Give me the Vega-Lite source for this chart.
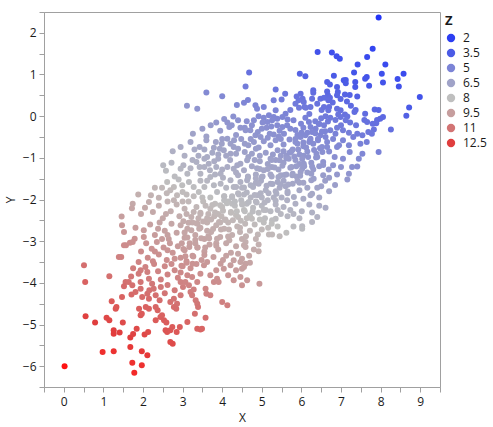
{
  "$schema": "https://vega.github.io/schema/vega-lite/v6.json",
  "autosize": {"type": "none"},
  "padding": {"left": 44, "top": 12, "right": 53, "bottom": 40},
  "width": 396,
  "height": 375,
  "background": "white",
  "config": {
    "font": "Open Sans",
    "view": {"stroke": "#a0a0a0", "strokeWidth": 1},
    "axis": {
      "grid": false,
      "domainColor": "#a0a0a0",
      "tickColor": "#a0a0a0",
      "tickSize": 5,
      "labelFontSize": 12,
      "labelColor": "#1a1a1a",
      "titleFontSize": 12,
      "titleFontWeight": "normal",
      "titleColor": "#1a1a1a"
    }
  },
  "data": {
    "values": [
      {"x":7.95,"y":2.37,"z":1.44},{"x":6.41,"y":1.54,"z":3.02},{"x":6.77,"y":1.53,"z":2.87},{"x":6.89,"y":1.44,"z":2.91},
      {"x":6.97,"y":1.38,"z":2.94},{"x":7.80,"y":1.62,"z":2.32},{"x":7.66,"y":1.42,"z":2.60},{"x":7.42,"y":1.24,"z":2.90},
      {"x":8.12,"y":1.24,"z":2.59},{"x":8.58,"y":1.02,"z":2.62},{"x":8.03,"y":1.02,"z":2.87},{"x":7.33,"y":1.05,"z":3.14},
      {"x":5.96,"y":1.02,"z":3.78},{"x":6.10,"y":0.96,"z":3.78},{"x":4.68,"y":1.05,"z":4.31},{"x":6.82,"y":0.97,"z":3.45},
      {"x":4.59,"y":0.71,"z":4.71},{"x":7.65,"y":0.94,"z":3.11},{"x":7.61,"y":0.90,"z":3.18},{"x":8.43,"y":0.89,"z":2.83},
      {"x":8.06,"y":0.81,"z":3.08},{"x":8.46,"y":0.71,"z":3.01},{"x":7.71,"y":0.73,"z":3.32},{"x":7.36,"y":0.82,"z":3.37},
      {"x":7.36,"y":0.70,"z":3.50},{"x":6.65,"y":0.82,"z":3.68},{"x":6.72,"y":0.76,"z":3.72},{"x":7.07,"y":0.86,"z":3.46},
      {"x":7.12,"y":0.87,"z":3.43},{"x":7.12,"y":0.79,"z":3.52},{"x":6.90,"y":0.70,"z":3.70},{"x":6.92,"y":0.58,"z":3.83},
      {"x":6.90,"y":0.50,"z":3.92},{"x":7.10,"y":0.52,"z":3.82},{"x":7.22,"y":0.51,"z":3.77},{"x":5.35,"y":0.64,"z":4.46},
      {"x":5.59,"y":0.54,"z":4.46},{"x":6.30,"y":0.62,"z":4.06},{"x":6.30,"y":0.56,"z":4.13},{"x":5.98,"y":0.54,"z":4.29},
      {"x":6.67,"y":0.50,"z":4.03},{"x":3.60,"y":0.57,"z":5.30},{"x":8.99,"y":0.46,"z":3.04},{"x":6.65,"y":0.59,"z":3.93},
      {"x":8.72,"y":0.21,"z":3.43},{"x":8.65,"y":0.01,"z":3.68},{"x":4.00,"y":0.48,"z":5.22},{"x":3.11,"y":0.25,"z":5.86},
      {"x":3.37,"y":0.18,"z":5.83},{"x":4.37,"y":0.27,"z":5.29},{"x":4.55,"y":0.32,"z":5.15},{"x":4.65,"y":0.39,"z":5.03},
      {"x":5.88,"y":0.47,"z":4.40},{"x":6.03,"y":0.42,"z":4.40},{"x":5.93,"y":0.38,"z":4.48},{"x":6.06,"y":0.34,"z":4.46},
      {"x":6.08,"y":0.22,"z":4.58},{"x":5.94,"y":0.20,"z":4.67},{"x":6.23,"y":0.22,"z":4.52},{"x":6.11,"y":0.20,"z":4.59},
      {"x":6.48,"y":0.42,"z":4.20},{"x":6.57,"y":0.44,"z":4.13},{"x":6.72,"y":0.44,"z":4.06},{"x":6.68,"y":0.38,"z":4.15},
      {"x":6.79,"y":0.33,"z":4.15},{"x":6.51,"y":0.15,"z":4.48},{"x":6.57,"y":0.22,"z":4.37},{"x":6.70,"y":0.22,"z":4.31},
      {"x":6.68,"y":0.14,"z":4.41},{"x":6.90,"y":0.18,"z":4.27},{"x":6.99,"y":0.14,"z":4.27},{"x":6.93,"y":0.04,"z":4.41},
      {"x":7.10,"y":0.04,"z":4.34},{"x":6.99,"y":0.41,"z":3.98},{"x":7.15,"y":0.35,"z":3.97},{"x":7.41,"y":0.47,"z":3.73},
      {"x":7.37,"y":0.15,"z":4.10},{"x":7.34,"y":0.10,"z":4.16},{"x":7.61,"y":0.06,"z":4.09},{"x":7.85,"y":0.16,"z":3.88},
      {"x":7.95,"y":0.15,"z":3.84},{"x":4.84,"y":0.26,"z":5.09},{"x":4.88,"y":0.18,"z":5.16},{"x":5.05,"y":0.22,"z":5.04},
      {"x":5.30,"y":0.38,"z":4.76},{"x":5.35,"y":0.14,"z":5.00},{"x":5.18,"y":0.02,"z":5.20},{"x":5.60,"y":0.06,"z":4.98},
      {"x":5.85,"y":0.30,"z":4.61},{"x":6.27,"y":0.42,"z":4.29},{"x":5.50,"y":0.40,"z":4.65},{"x":5.72,"y":0.15,"z":4.82},
      {"x":6.40,"y":0.30,"z":4.36},{"x":7.25,"y":0.25,"z":4.04},{"x":6.20,"y":0.05,"z":4.72},
      {"x":4.05,"y":-0.07,"z":5.80},{"x":4.13,"y":-0.15,"z":5.84},{"x":4.28,"y":-0.01,"z":5.63},{"x":4.18,"y":-0.26,"z":5.94},
      {"x":4.24,"y":-0.22,"z":5.87},{"x":3.71,"y":-0.22,"z":6.11},{"x":4.46,"y":-0.28,"z":5.84},{"x":4.57,"y":-0.28,"z":5.79},
      {"x":4.59,"y":-0.34,"z":5.85},{"x":3.26,"y":-0.42,"z":6.52},{"x":6.99,"y":-0.02,"z":4.44},{"x":7.16,"y":-0.01,"z":4.36},
      {"x":7.12,"y":-0.10,"z":4.48},{"x":7.59,"y":-0.09,"z":4.26},{"x":7.66,"y":-0.14,"z":4.28},{"x":7.38,"y":-0.22,"z":4.49},
      {"x":7.23,"y":-0.15,"z":4.48},{"x":7.05,"y":-0.34,"z":4.77},{"x":7.91,"y":-0.09,"z":4.12},{"x":7.99,"y":-0.06,"z":4.04},
      {"x":8.06,"y":-0.02,"z":3.97},{"x":7.89,"y":-0.17,"z":4.21},{"x":7.80,"y":-0.18,"z":4.26},{"x":7.83,"y":-0.32,"z":4.40},
      {"x":7.69,"y":-0.38,"z":4.53},{"x":7.78,"y":-0.42,"z":4.53},{"x":7.54,"y":-0.46,"z":4.68},{"x":7.41,"y":-0.42,"z":4.69},
      {"x":8.26,"y":-0.32,"z":4.22},{"x":5.30,"y":-0.02,"z":5.19},{"x":5.39,"y":-0.06,"z":5.19},{"x":5.52,"y":-0.02,"z":5.09},
      {"x":4.80,"y":-0.10,"z":5.50},{"x":4.92,"y":0.00,"z":5.34},{"x":5.05,"y":-0.04,"z":5.32},{"x":5.14,"y":-0.14,"z":5.39},
      {"x":5.26,"y":-0.10,"z":5.30},{"x":5.12,"y":-0.28,"z":5.55},{"x":5.24,"y":-0.25,"z":5.46},{"x":5.39,"y":-0.22,"z":5.37},
      {"x":5.52,"y":-0.26,"z":5.35},{"x":5.64,"y":-0.22,"z":5.26},{"x":5.72,"y":-0.30,"z":5.30},{"x":5.85,"y":-0.33,"z":5.29},
      {"x":5.99,"y":-0.18,"z":5.05},{"x":6.10,"y":-0.04,"z":4.86},{"x":6.19,"y":-0.14,"z":4.93},{"x":6.23,"y":-0.26,"z":5.04},
      {"x":6.36,"y":-0.30,"z":5.02},{"x":6.27,"y":-0.38,"z":5.15},{"x":6.44,"y":-0.18,"z":4.86},{"x":6.57,"y":-0.22,"z":4.85},
      {"x":6.67,"y":-0.13,"z":4.71},{"x":6.61,"y":0.00,"z":4.59},{"x":6.73,"y":-0.04,"z":4.58},{"x":6.86,"y":-0.09,"z":4.58},
      {"x":6.73,"y":-0.34,"z":4.91},{"x":6.86,"y":-0.42,"z":4.93},{"x":6.48,"y":-0.46,"z":5.15},{"x":6.61,"y":-0.50,"z":5.13},
      {"x":5.30,"y":-0.44,"z":5.65},{"x":5.43,"y":-0.49,"z":5.64},{"x":5.56,"y":-0.42,"z":5.50},{"x":4.84,"y":-0.46,"z":5.87},
      {"x":4.97,"y":-0.50,"z":5.85},{"x":4.71,"y":-0.34,"z":5.80},{"x":5.98,"y":-0.50,"z":5.41},{"x":6.10,"y":-0.46,"z":5.32},
      {"x":6.23,"y":-0.54,"z":5.34},{"x":3.95,"y":-0.35,"z":6.14},{"x":4.35,"y":-0.45,"z":6.08},{"x":4.62,"y":-0.12,"z":5.60},
      {"x":5.00,"y":-0.30,"z":5.62},{"x":5.80,"y":-0.10,"z":5.06},{"x":6.00,"y":-0.40,"z":5.29},{"x":6.50,"y":-0.05,"z":4.69},
      {"x":7.00,"y":-0.22,"z":4.66},
      {"x":4.40,"y":-0.10,"z":5.67},{"x":4.75,"y":-0.22,"z":5.65},{"x":5.02,"y":-0.15,"z":5.45},{"x":5.45,"y":-0.35,"z":5.48},
      {"x":5.65,"y":-0.08,"z":5.10},{"x":5.90,"y":-0.45,"z":5.39},{"x":6.05,"y":-0.28,"z":5.14},{"x":6.35,"y":-0.12,"z":4.84},
      {"x":6.60,"y":-0.36,"z":4.99},{"x":6.90,"y":-0.28,"z":4.76},{"x":7.20,"y":-0.40,"z":4.76},{"x":3.85,"y":-0.15,"z":5.97},
      {"x":3.50,"y":-0.30,"z":6.28},{"x":4.90,"y":-0.38,"z":5.75},{"x":5.20,"y":-0.42,"z":5.66},
      {"x":3.60,"y":-0.49,"z":6.45},{"x":3.60,"y":-0.58,"z":6.55},{"x":3.84,"y":-0.62,"z":6.48},{"x":3.99,"y":-0.66,"z":6.45},
      {"x":3.43,"y":-0.74,"z":6.79},{"x":2.95,"y":-0.74,"z":7.00},{"x":2.75,"y":-0.84,"z":7.20},{"x":4.13,"y":-0.54,"z":6.26},
      {"x":4.21,"y":-0.66,"z":6.36},{"x":4.29,"y":-0.74,"z":6.41},{"x":4.48,"y":-0.55,"z":6.12},{"x":4.57,"y":-0.66,"z":6.20},
      {"x":4.66,"y":-0.70,"z":6.21},{"x":3.79,"y":-0.76,"z":6.65},{"x":3.94,"y":-0.78,"z":6.61},{"x":4.04,"y":-0.82,"z":6.61},
      {"x":4.21,"y":-0.90,"z":6.62},{"x":4.35,"y":-0.90,"z":6.56},{"x":4.57,"y":-0.86,"z":6.42},{"x":4.66,"y":-0.98,"z":6.51},
      {"x":3.62,"y":-0.98,"z":6.97},{"x":7.95,"y":-0.86,"z":4.93},{"x":7.54,"y":-0.90,"z":5.15},{"x":7.22,"y":-0.86,"z":5.25},
      {"x":6.84,"y":-0.98,"z":5.55},{"x":7.31,"y":-0.50,"z":4.82},{"x":7.49,"y":-0.66,"z":4.91},{"x":4.80,"y":-0.62,"z":6.06},
      {"x":4.92,"y":-0.75,"z":6.15},{"x":5.05,"y":-0.60,"z":5.93},{"x":5.10,"y":-0.88,"z":6.21},{"x":5.22,"y":-0.70,"z":5.96},
      {"x":5.35,"y":-0.58,"z":5.78},{"x":5.40,"y":-0.82,"z":6.01},{"x":5.55,"y":-0.68,"z":5.79},{"x":5.62,"y":-0.95,"z":6.06},
      {"x":5.70,"y":-0.56,"z":5.59},{"x":5.78,"y":-0.80,"z":5.82},{"x":5.90,"y":-0.66,"z":5.61},{"x":5.95,"y":-0.92,"z":5.87},
      {"x":6.05,"y":-0.72,"z":5.62},{"x":6.15,"y":-0.85,"z":5.71},{"x":6.30,"y":-0.66,"z":5.44},{"x":6.38,"y":-0.90,"z":5.66},
      {"x":6.52,"y":-0.74,"z":5.43},{"x":6.65,"y":-0.62,"z":5.24},{"x":6.70,"y":-0.85,"z":5.47},{"x":6.95,"y":-0.70,"z":5.20},
      {"x":7.05,"y":-0.58,"z":5.03},{"x":3.20,"y":-0.62,"z":6.76},{"x":3.05,"y":-0.95,"z":7.19},{"x":6.65,"y":-0.74,"z":5.37},
      {"x":6.90,"y":-0.74,"z":5.26},{"x":6.40,"y":-0.98,"z":5.74},{"x":6.53,"y":-0.86,"z":5.56},{"x":3.75,"y":-0.88,"z":6.80},
      {"x":4.00,"y":-0.55,"z":6.33},{"x":4.40,"y":-0.78,"z":6.40},{"x":4.75,"y":-0.90,"z":6.38},{"x":4.95,"y":-0.95,"z":6.35},
      {"x":5.28,"y":-0.92,"z":6.17},{"x":5.48,"y":-0.55,"z":5.68},{"x":5.85,"y":-0.55,"z":5.52},{"x":6.42,"y":-0.58,"z":5.31},
      {"x":6.80,"y":-0.55,"z":5.10},
      {"x":3.30,"y":-0.80,"z":6.91},{"x":3.40,"y":-0.95,"z":7.03},{"x":3.55,"y":-0.80,"z":6.80},{"x":3.90,"y":-0.92,"z":6.77},
      {"x":4.10,"y":-0.95,"z":6.73},{"x":4.30,"y":-0.58,"z":6.24},{"x":4.72,"y":-0.55,"z":6.01},{"x":4.85,"y":-0.78,"z":6.21},
      {"x":5.15,"y":-0.52,"z":5.79},{"x":5.48,"y":-0.95,"z":6.12},{"x":5.70,"y":-0.88,"z":5.94},{"x":6.05,"y":-0.95,"z":5.87},
      {"x":6.20,"y":-0.62,"z":5.44},{"x":7.20,"y":-0.70,"z":5.09},{"x":7.45,"y":-1.02,"z":5.32},{"x":7.65,"y":-0.62,"z":4.80},
      {"x":2.51,"y":-1.18,"z":7.67},{"x":2.58,"y":-1.31,"z":7.77},{"x":3.02,"y":-1.18,"z":7.44},{"x":2.95,"y":-1.26,"z":7.56},
      {"x":3.12,"y":-1.38,"z":7.62},{"x":3.43,"y":-1.22,"z":7.31},{"x":3.66,"y":-1.14,"z":7.12},{"x":3.45,"y":-1.38,"z":7.47},
      {"x":3.69,"y":-1.30,"z":7.28},{"x":3.85,"y":-1.22,"z":7.13},{"x":3.70,"y":-1.46,"z":7.45},{"x":3.96,"y":-1.38,"z":7.25},
      {"x":4.13,"y":-1.22,"z":7.00},{"x":4.29,"y":-1.26,"z":6.97},{"x":4.46,"y":-1.14,"z":6.77},{"x":4.63,"y":-1.06,"z":6.60},
      {"x":7.28,"y":-1.22,"z":5.62},{"x":7.41,"y":-1.21,"z":5.55},{"x":7.16,"y":-1.52,"z":5.99},{"x":6.69,"y":-1.28,"z":5.94},
      {"x":6.80,"y":-1.18,"z":5.78},{"x":6.25,"y":-1.54,"z":6.41},{"x":6.31,"y":-1.50,"z":6.34},{"x":6.02,"y":-1.26,"z":6.21},
      {"x":5.98,"y":-1.34,"z":6.32},{"x":6.06,"y":-1.14,"z":6.06},{"x":4.75,"y":-1.20,"z":6.71},{"x":4.85,"y":-1.40,"z":6.88},
      {"x":4.95,"y":-1.08,"z":6.49},{"x":5.05,"y":-1.30,"z":6.68},{"x":5.15,"y":-1.15,"z":6.47},{"x":5.25,"y":-1.45,"z":6.76},
      {"x":5.35,"y":-1.05,"z":6.28},{"x":5.42,"y":-1.28,"z":6.50},{"x":5.55,"y":-1.12,"z":6.27},{"x":5.62,"y":-1.40,"z":6.54},
      {"x":5.75,"y":-1.22,"z":6.29},{"x":5.85,"y":-1.05,"z":6.06},{"x":5.88,"y":-1.45,"z":6.48},{"x":6.15,"y":-1.35,"z":6.25},
      {"x":6.45,"y":-1.20,"z":5.96},{"x":6.55,"y":-1.42,"z":6.15},{"x":4.40,"y":-1.42,"z":7.09},{"x":4.55,"y":-1.30,"z":6.90},
      {"x":4.20,"y":-1.05,"z":6.78},{"x":3.90,"y":-1.02,"z":6.88},{"x":3.25,"y":-1.05,"z":7.20},{"x":2.80,"y":-1.45,"z":7.84},
      {"x":3.55,"y":-1.02,"z":7.04},{"x":3.80,"y":-1.08,"z":7.00},{"x":4.02,"y":-1.48,"z":7.33},{"x":4.35,"y":-1.35,"z":7.05},
      {"x":4.65,"y":-1.45,"z":7.02},{"x":4.88,"y":-1.25,"z":6.70},{"x":5.22,"y":-1.02,"z":6.30},{"x":5.48,"y":-1.42,"z":6.62},
      {"x":5.68,"y":-1.02,"z":6.10},{"x":6.25,"y":-1.12,"z":5.96},{"x":6.90,"y":-1.40,"z":5.97},{"x":7.05,"y":-1.02,"z":5.50},
      {"x":3.20,"y":-1.25,"z":7.44},{"x":3.35,"y":-1.10,"z":7.22},{"x":3.55,"y":-1.22,"z":7.26},{"x":3.82,"y":-1.40,"z":7.33},
      {"x":4.00,"y":-1.28,"z":7.12},{"x":4.38,"y":-1.18,"z":6.84},{"x":4.82,"y":-1.05,"z":6.51},{"x":5.00,"y":-1.46,"z":6.88},
      {"x":5.25,"y":-1.22,"z":6.51},{"x":5.78,"y":-1.38,"z":6.45},{"x":5.95,"y":-1.15,"z":6.12},{"x":6.30,"y":-1.28,"z":6.11},
      {"x":6.55,"y":-1.10,"z":5.81},{"x":6.70,"y":-1.48,"z":6.15},{"x":7.00,"y":-1.22,"z":5.74},{"x":7.20,"y":-1.38,"z":5.82},
      {"x":2.72,"y":-1.12,"z":7.51},
      {"x":2.61,"y":-1.58,"z":8.06},{"x":2.78,"y":-1.70,"z":8.12},{"x":2.99,"y":-1.66,"z":7.97},{"x":3.16,"y":-1.58,"z":7.82},
      {"x":3.28,"y":-1.70,"z":7.90},{"x":3.41,"y":-1.82,"z":7.97},{"x":3.55,"y":-1.70,"z":7.78},{"x":3.79,"y":-1.66,"z":7.62},
      {"x":3.96,"y":-1.62,"z":7.51},{"x":3.87,"y":-1.82,"z":7.77},{"x":4.21,"y":-1.54,"z":7.31},{"x":4.29,"y":-1.70,"z":7.45},
      {"x":4.46,"y":-1.58,"z":7.25},{"x":4.63,"y":-1.54,"z":7.12},{"x":1.88,"y":-1.88,"z":8.70},{"x":2.69,"y":-1.78,"z":8.24},
      {"x":2.86,"y":-1.90,"z":8.29},{"x":2.40,"y":-1.96,"z":8.56},{"x":6.27,"y":-1.86,"z":6.75},{"x":6.23,"y":-1.90,"z":6.81},
      {"x":5.81,"y":-1.94,"z":7.04},{"x":4.78,"y":-1.70,"z":7.24},{"x":4.90,"y":-1.90,"z":7.39},{"x":4.98,"y":-1.55,"z":6.98},
      {"x":5.10,"y":-1.78,"z":7.18},{"x":5.22,"y":-1.62,"z":6.95},{"x":5.30,"y":-1.95,"z":7.28},{"x":5.45,"y":-1.72,"z":6.96},
      {"x":5.55,"y":-1.55,"z":6.73},{"x":5.65,"y":-1.85,"z":7.01},{"x":5.78,"y":-1.62,"z":6.71},{"x":5.95,"y":-1.78,"z":6.80},
      {"x":6.05,"y":-1.60,"z":6.57},{"x":6.50,"y":-1.68,"z":6.45},{"x":6.70,"y":-1.80,"z":6.49},{"x":4.05,"y":-1.92,"z":7.79},
      {"x":4.55,"y":-1.88,"z":7.53},{"x":3.70,"y":-1.95,"z":7.98},{"x":3.10,"y":-1.88,"z":8.17},{"x":2.30,"y":-1.72,"z":8.35},
      {"x":3.00,"y":-1.82,"z":8.15},{"x":3.45,"y":-1.55,"z":7.65},{"x":3.62,"y":-1.55,"z":7.58},{"x":4.10,"y":-1.72,"z":7.56},
      {"x":4.40,"y":-1.85,"z":7.56},{"x":4.85,"y":-1.60,"z":7.10},{"x":5.00,"y":-1.95,"z":7.41},{"x":5.35,"y":-1.80,"z":7.09},
      {"x":5.50,"y":-1.95,"z":7.19},{"x":5.90,"y":-1.55,"z":6.57},{"x":6.05,"y":-1.98,"z":6.98},{"x":6.45,"y":-1.95,"z":6.77},
      {"x":2.48,"y":-1.72,"z":8.27},{"x":2.60,"y":-1.85,"z":8.36},{"x":2.90,"y":-1.52,"z":7.86},{"x":3.28,"y":-1.92,"z":8.13},
      {"x":3.50,"y":-1.95,"z":8.07},{"x":4.25,"y":-1.95,"z":7.74},{"x":4.50,"y":-1.72,"z":7.38},{"x":4.72,"y":-1.95,"z":7.53},
      {"x":5.40,"y":-1.58,"z":6.83},{"x":5.60,"y":-1.68,"z":6.85},{"x":6.15,"y":-1.72,"z":6.65},{"x":6.40,"y":-1.72,"z":6.54},
      {"x":6.60,"y":-1.55,"z":6.27},{"x":6.85,"y":-1.65,"z":6.27},{"x":2.20,"y":-1.90,"z":8.58},
      {"x":1.74,"y":-2.10,"z":9.00},{"x":1.72,"y":-2.21,"z":9.13},{"x":2.15,"y":-2.06,"z":8.77},{"x":1.46,"y":-2.41,"z":9.46},
      {"x":6.01,"y":-2.28,"z":7.32},{"x":6.27,"y":-2.31,"z":7.23},{"x":6.61,"y":-2.20,"z":6.97},{"x":5.64,"y":-2.02,"z":7.20},
      {"x":5.35,"y":-2.46,"z":7.81},{"x":5.26,"y":-2.50,"z":7.89},{"x":2.25,"y":-2.30,"z":8.99},{"x":2.40,"y":-2.15,"z":8.76},
      {"x":2.50,"y":-2.45,"z":9.05},{"x":2.62,"y":-2.05,"z":8.56},{"x":2.70,"y":-2.28,"z":8.77},{"x":2.85,"y":-2.12,"z":8.54},
      {"x":2.92,"y":-2.40,"z":8.81},{"x":3.05,"y":-2.22,"z":8.56},{"x":3.15,"y":-2.05,"z":8.32},{"x":3.22,"y":-2.42,"z":8.69},
      {"x":3.35,"y":-2.18,"z":8.38},{"x":3.45,"y":-2.32,"z":8.49},{"x":3.52,"y":-2.05,"z":8.16},{"x":3.62,"y":-2.45,"z":8.56},
      {"x":3.70,"y":-2.22,"z":8.27},{"x":3.82,"y":-2.10,"z":8.09},{"x":3.90,"y":-2.35,"z":8.32},{"x":4.00,"y":-2.18,"z":8.09},
      {"x":4.08,"y":-2.48,"z":8.38},{"x":4.15,"y":-2.05,"z":7.88},{"x":4.22,"y":-2.30,"z":8.12},{"x":4.32,"y":-2.15,"z":7.92},
      {"x":4.40,"y":-2.42,"z":8.17},{"x":4.48,"y":-2.02,"z":7.71},{"x":4.55,"y":-2.25,"z":7.93},{"x":4.62,"y":-2.10,"z":7.74},
      {"x":4.70,"y":-2.38,"z":8.00},{"x":4.78,"y":-2.20,"z":7.78},{"x":4.85,"y":-2.05,"z":7.58},{"x":4.92,"y":-2.32,"z":7.85},
      {"x":5.00,"y":-2.15,"z":7.62},{"x":5.08,"y":-2.45,"z":7.91},{"x":5.15,"y":-2.02,"z":7.41},{"x":5.22,"y":-2.28,"z":7.66},
      {"x":5.35,"y":-2.12,"z":7.44},{"x":5.48,"y":-2.35,"z":7.63},{"x":5.55,"y":-2.18,"z":7.41},{"x":5.72,"y":-2.25,"z":7.41},
      {"x":5.85,"y":-2.10,"z":7.20},{"x":4.35,"y":-2.38,"z":8.16},{"x":4.62,"y":-2.45,"z":8.12},{"x":4.95,"y":-2.48,"z":8.00},
      {"x":3.98,"y":-2.40,"z":8.34},{"x":4.25,"y":-2.10,"z":7.90},{"x":5.10,"y":-2.25,"z":7.69},{"x":1.95,"y":-2.35,"z":9.18},
      {"x":2.58,"y":-2.35,"z":8.90},{"x":2.78,"y":-2.02,"z":8.46},{"x":3.10,"y":-2.35,"z":8.68},{"x":3.28,"y":-2.30,"z":8.54},
      {"x":3.58,"y":-2.15,"z":8.24},{"x":3.80,"y":-2.40,"z":8.42},{"x":4.05,"y":-2.02,"z":7.90},{"x":4.50,"y":-2.12,"z":7.81},
      {"x":5.40,"y":-2.25,"z":7.55},{"x":5.65,"y":-2.40,"z":7.60},{"x":5.95,"y":-2.45,"z":7.53},{"x":6.20,"y":-2.12,"z":7.06},
      {"x":6.40,"y":-2.42,"z":7.29},{"x":2.05,"y":-2.20,"z":8.98},{"x":3.00,"y":-2.05,"z":8.39},{"x":3.40,"y":-2.45,"z":8.65},
      {"x":5.80,"y":-2.35,"z":7.49},{"x":6.45,"y":-2.15,"z":6.98},
      {"x":1.47,"y":-2.62,"z":9.68},{"x":1.52,"y":-2.78,"z":9.83},{"x":1.81,"y":-2.68,"z":9.59},{"x":1.79,"y":-2.94,"z":9.89},
      {"x":2.02,"y":-2.74,"z":9.57},{"x":2.02,"y":-2.90,"z":9.74},{"x":6.27,"y":-2.54,"z":7.48},{"x":6.02,"y":-2.64,"z":7.70},
      {"x":6.02,"y":-2.70,"z":7.77},{"x":5.62,"y":-2.80,"z":8.05},{"x":5.16,"y":-2.68,"z":8.12},{"x":5.26,"y":-2.84,"z":8.26},
      {"x":5.18,"y":-2.84,"z":8.29},{"x":4.90,"y":-2.84,"z":8.41},{"x":2.18,"y":-2.60,"z":9.35},{"x":2.30,"y":-2.85,"z":9.57},
      {"x":2.42,"y":-2.55,"z":9.19},{"x":2.55,"y":-2.75,"z":9.35},{"x":2.65,"y":-2.95,"z":9.52},{"x":2.72,"y":-2.58,"z":9.09},
      {"x":2.85,"y":-2.80,"z":9.27},{"x":2.95,"y":-2.62,"z":9.03},{"x":3.05,"y":-2.92,"z":9.31},{"x":3.12,"y":-2.70,"z":9.05},
      {"x":3.25,"y":-2.55,"z":8.82},{"x":3.32,"y":-2.85,"z":9.12},{"x":3.45,"y":-2.68,"z":8.87},{"x":3.55,"y":-2.95,"z":9.13},
      {"x":3.62,"y":-2.55,"z":8.66},{"x":3.72,"y":-2.78,"z":8.86},{"x":3.85,"y":-2.62,"z":8.64},{"x":3.95,"y":-2.90,"z":8.89},
      {"x":4.05,"y":-2.70,"z":8.64},{"x":4.15,"y":-2.55,"z":8.42},{"x":4.25,"y":-2.85,"z":8.71},{"x":4.38,"y":-2.65,"z":8.43},
      {"x":4.50,"y":-2.95,"z":8.71},{"x":4.58,"y":-2.58,"z":8.27},{"x":4.70,"y":-2.75,"z":8.40},{"x":4.82,"y":-2.60,"z":8.19},
      {"x":5.00,"y":-2.72,"z":8.24},{"x":4.45,"y":-2.78,"z":8.54},{"x":2.48,"y":-2.95,"z":9.60},{"x":2.38,"y":-2.70,"z":9.37},
      {"x":2.62,"y":-2.85,"z":9.43},{"x":3.02,"y":-2.52,"z":8.89},{"x":3.38,"y":-2.58,"z":8.80},{"x":3.65,"y":-2.88,"z":9.00},
      {"x":3.95,"y":-2.55,"z":8.51},{"x":4.18,"y":-2.98,"z":8.88},{"x":4.60,"y":-2.88,"z":8.59},{"x":4.85,"y":-2.95,"z":8.56},
      {"x":5.05,"y":-2.55,"z":8.03},{"x":5.40,"y":-2.65,"z":7.98},{"x":5.25,"y":-2.58,"z":7.98},{"x":5.80,"y":-2.65,"z":7.81},
      {"x":5.45,"y":-2.88,"z":8.21},
      {"x":1.52,"y":-3.10,"z":10.18},{"x":1.57,"y":-3.10,"z":10.16},{"x":1.67,"y":-3.04,"z":10.05},{"x":1.74,"y":-3.02,"z":9.99},
      {"x":1.39,"y":-3.38,"z":10.54},{"x":1.45,"y":-3.38,"z":10.51},{"x":1.89,"y":-3.50,"z":10.45},{"x":4.92,"y":-3.08,"z":8.67},
      {"x":4.92,"y":-3.24,"z":8.84},{"x":4.80,"y":-3.20,"z":8.85},{"x":4.59,"y":-3.02,"z":8.74},{"x":4.55,"y":-3.10,"z":8.85},
      {"x":4.59,"y":-3.14,"z":8.87},{"x":4.50,"y":-3.42,"z":9.21},{"x":4.70,"y":-3.52,"z":9.23},{"x":4.46,"y":-3.50,"z":9.32},
      {"x":4.59,"y":-3.54,"z":9.30},{"x":4.29,"y":-3.46,"z":9.35},{"x":1.95,"y":-3.25,"z":10.15},{"x":2.08,"y":-3.05,"z":9.87},
      {"x":2.12,"y":-3.40,"z":10.24},{"x":2.22,"y":-3.18,"z":9.95},{"x":2.35,"y":-3.02,"z":9.73},{"x":2.40,"y":-3.32,"z":10.03},
      {"x":2.52,"y":-3.15,"z":9.79},{"x":2.60,"y":-3.45,"z":10.09},{"x":2.68,"y":-3.05,"z":9.61},{"x":2.75,"y":-3.28,"z":9.83},
      {"x":2.88,"y":-3.12,"z":9.60},{"x":2.95,"y":-3.40,"z":9.87},{"x":3.05,"y":-3.22,"z":9.64},{"x":3.18,"y":-3.05,"z":9.39},
      {"x":3.25,"y":-3.35,"z":9.69},{"x":3.38,"y":-3.15,"z":9.41},{"x":3.48,"y":-3.45,"z":9.70},{"x":3.55,"y":-3.25,"z":9.45},
      {"x":3.68,"y":-3.08,"z":9.21},{"x":3.78,"y":-3.38,"z":9.49},{"x":3.90,"y":-3.20,"z":9.24},{"x":4.02,"y":-3.45,"z":9.46},
      {"x":4.10,"y":-3.05,"z":8.99},{"x":4.22,"y":-3.28,"z":9.18},{"x":4.35,"y":-3.12,"z":8.96},{"x":3.10,"y":-3.48,"z":9.90},
      {"x":2.25,"y":-3.48,"z":10.27},{"x":2.30,"y":-3.25,"z":10.00},{"x":2.62,"y":-3.22,"z":9.83},{"x":2.80,"y":-3.42,"z":9.96},
      {"x":2.98,"y":-3.05,"z":9.48},{"x":3.32,"y":-3.05,"z":9.33},{"x":3.85,"y":-3.05,"z":9.10},{"x":4.10,"y":-3.35,"z":9.32},
      {"x":4.40,"y":-3.30,"z":9.12},{"x":4.68,"y":-3.35,"z":9.06},
      {"x":0.51,"y":-3.58,"z":11.15},{"x":0.54,"y":-3.98,"z":11.56},{"x":1.15,"y":-3.84,"z":11.14},{"x":1.56,"y":-3.98,"z":11.11},
      {"x":1.64,"y":-3.98,"z":11.08},{"x":1.94,"y":-3.98,"z":10.95},{"x":1.94,"y":-3.70,"z":10.65},{"x":1.89,"y":-3.78,"z":10.75},
      {"x":2.06,"y":-3.62,"z":10.50},{"x":2.11,"y":-3.74,"z":10.61},{"x":2.15,"y":-3.90,"z":10.76},{"x":2.95,"y":-3.98,"z":10.50},
      {"x":3.07,"y":-3.98,"z":10.45},{"x":3.12,"y":-3.82,"z":10.26},{"x":3.24,"y":-3.86,"z":10.24},{"x":3.45,"y":-3.78,"z":10.06},
      {"x":3.54,"y":-3.58,"z":9.81},{"x":3.62,"y":-3.50,"z":9.69},{"x":3.37,"y":-3.98,"z":10.32},{"x":3.70,"y":-3.82,"z":10.00},
      {"x":3.79,"y":-3.98,"z":10.13},{"x":3.87,"y":-3.90,"z":10.01},{"x":3.91,"y":-3.98,"z":10.08},{"x":3.96,"y":-3.54,"z":9.58},
      {"x":4.04,"y":-3.66,"z":9.67},{"x":4.21,"y":-3.58,"z":9.52},{"x":4.29,"y":-3.94,"z":9.87},{"x":4.46,"y":-3.86,"z":9.71},
      {"x":4.63,"y":-3.94,"z":9.72},{"x":4.50,"y":-3.66,"z":9.47},{"x":4.55,"y":-3.62,"z":9.41},{"x":2.28,"y":-3.55,"z":10.33},
      {"x":2.38,"y":-3.72,"z":10.47},{"x":2.45,"y":-3.92,"z":10.65},{"x":2.55,"y":-3.60,"z":10.27},{"x":2.62,"y":-3.80,"z":10.45},
      {"x":2.72,"y":-3.55,"z":10.13},{"x":2.80,"y":-3.70,"z":10.27},{"x":2.88,"y":-3.88,"z":10.42},{"x":3.00,"y":-3.60,"z":10.07},
      {"x":3.20,"y":-3.65,"z":10.03},{"x":3.35,"y":-3.55,"z":9.86},{"x":2.95,"y":-3.75,"z":10.25},{"x":3.10,"y":-3.52,"z":9.94},
      {"x":3.85,"y":-3.70,"z":9.81},{"x":4.15,"y":-3.82,"z":9.80},{"x":4.35,"y":-3.70,"z":9.59},{"x":1.75,"y":-3.65,"z":10.67},
      {"x":1.70,"y":-3.85,"z":10.91},
      {"x":1.21,"y":-4.44,"z":11.77},{"x":1.52,"y":-4.08,"z":11.24},{"x":1.47,"y":-4.34,"z":11.54},{"x":1.73,"y":-4.06,"z":11.12},
      {"x":1.71,"y":-4.28,"z":11.37},{"x":1.81,"y":-4.22,"z":11.26},{"x":1.94,"y":-4.14,"z":11.12},{"x":1.98,"y":-4.34,"z":11.32},
      {"x":2.11,"y":-4.26,"z":11.17},{"x":2.15,"y":-4.38,"z":11.28},{"x":2.16,"y":-4.18,"z":11.06},{"x":2.23,"y":-4.02,"z":10.86},
      {"x":2.27,"y":-4.14,"z":10.97},{"x":2.32,"y":-4.30,"z":11.12},{"x":2.69,"y":-4.46,"z":11.14},{"x":2.78,"y":-4.38,"z":11.01},
      {"x":2.86,"y":-4.50,"z":11.10},{"x":2.95,"y":-4.30,"z":10.84},{"x":3.20,"y":-4.22,"z":10.65},{"x":3.24,"y":-4.30,"z":10.71},
      {"x":3.28,"y":-4.16,"z":10.55},{"x":3.01,"y":-4.10,"z":10.61},{"x":3.16,"y":-4.06,"z":10.49},{"x":3.33,"y":-4.42,"z":10.80},
      {"x":3.37,"y":-4.50,"z":10.88},{"x":3.60,"y":-4.26,"z":10.52},{"x":3.58,"y":-4.14,"z":10.39},{"x":3.70,"y":-4.30,"z":10.51},
      {"x":4.00,"y":-4.46,"z":10.56},{"x":4.13,"y":-4.54,"z":10.58},{"x":4.50,"y":-4.06,"z":9.90},{"x":4.94,"y":-4.02,"z":9.67},
      {"x":2.45,"y":-4.10,"z":10.85},{"x":2.55,"y":-4.25,"z":10.97},{"x":2.62,"y":-4.05,"z":10.72},{"x":2.80,"y":-4.18,"z":10.78},
      {"x":2.42,"y":-4.42,"z":11.21},
      {"x":0.55,"y":-4.80,"z":12.44},{"x":0.79,"y":-4.95,"z":12.50},{"x":1.08,"y":-4.84,"z":12.25},{"x":1.15,"y":-4.90,"z":12.28},
      {"x":1.31,"y":-4.62,"z":11.91},{"x":1.33,"y":-4.58,"z":11.86},{"x":1.49,"y":-4.95,"z":12.19},{"x":1.90,"y":-4.62,"z":11.65},
      {"x":1.94,"y":-4.78,"z":11.81},{"x":1.97,"y":-4.74,"z":11.75},{"x":2.07,"y":-4.58,"z":11.54},{"x":2.15,"y":-4.62,"z":11.54},
      {"x":2.32,"y":-4.58,"z":11.43},{"x":2.37,"y":-4.66,"z":11.49},{"x":2.32,"y":-4.90,"z":11.77},{"x":2.44,"y":-4.82,"z":11.64},
      {"x":2.48,"y":-4.78,"z":11.57},{"x":2.53,"y":-4.90,"z":11.68},{"x":2.59,"y":-4.95,"z":11.71},{"x":2.78,"y":-4.58,"z":11.23},
      {"x":2.84,"y":-4.62,"z":11.24},{"x":3.12,"y":-4.94,"z":11.47},{"x":3.31,"y":-4.74,"z":11.16},{"x":3.58,"y":-4.84,"z":11.15},
      {"x":3.39,"y":-4.58,"z":10.96},
      {"x":0.98,"y":-5.66,"z":13.18},{"x":1.26,"y":-5.14,"z":12.50},{"x":1.26,"y":-5.22,"z":12.59},{"x":1.26,"y":-5.64,"z":13.04},
      {"x":1.41,"y":-5.19,"z":12.49},{"x":1.68,"y":-5.31,"z":12.49},{"x":1.75,"y":-5.23,"z":12.38},{"x":1.68,"y":-5.54,"z":12.74},
      {"x":1.73,"y":-5.92,"z":13.13},{"x":1.78,"y":-6.16,"z":13.37},{"x":1.84,"y":-5.10,"z":12.20},{"x":1.97,"y":-5.64,"z":12.72},
      {"x":1.97,"y":-5.98,"z":13.09},{"x":2.04,"y":-5.24,"z":12.26},{"x":2.13,"y":-5.18,"z":12.15},{"x":2.11,"y":-5.74,"z":12.77},
      {"x":2.57,"y":-5.14,"z":11.92},{"x":2.61,"y":-5.18,"z":11.94},{"x":2.69,"y":-5.14,"z":11.87},{"x":2.74,"y":-5.06,"z":11.75},
      {"x":2.93,"y":-5.06,"z":11.67},{"x":2.85,"y":-5.18,"z":11.84},{"x":2.69,"y":-5.42,"z":12.17},{"x":2.75,"y":-5.46,"z":12.19},
      {"x":3.37,"y":-5.10,"z":11.53},{"x":3.45,"y":-5.12,"z":11.51},{"x":3.49,"y":-5.10,"z":11.47},{"x":0.02,"y":-6.00,"z":13.97},
      {"x":2.97,"y":-3.59,"z":10.06},{"x":3.02,"y":-3.19,"z":9.62},{"x":3.05,"y":-2.79,"z":9.19},
      {"x":3.07,"y":-3.36,"z":9.77},{"x":3.12,"y":-2.91,"z":9.28},{"x":3.15,"y":-2.56,"z":8.90},
      {"x":3.17,"y":-3.14,"z":9.48},{"x":3.22,"y":-2.74,"z":9.05},{"x":3.25,"y":-3.54,"z":9.92},
      {"x":3.27,"y":-3.37,"z":9.69},{"x":3.32,"y":-2.97,"z":9.26},{"x":3.35,"y":-2.57,"z":8.82},
      {"x":3.37,"y":-3.15,"z":9.41},{"x":3.42,"y":-2.70,"z":8.92},{"x":3.45,"y":-2.35,"z":8.54},
      {"x":3.47,"y":-2.93,"z":9.12},{"x":3.52,"y":-2.53,"z":8.69},{"x":3.55,"y":-3.33,"z":9.56},
      {"x":3.57,"y":-3.15,"z":9.32},{"x":3.62,"y":-2.75,"z":8.89},{"x":3.65,"y":-2.35,"z":8.45},
      {"x":3.67,"y":-2.93,"z":9.04},{"x":3.72,"y":-2.48,"z":8.55},{"x":3.75,"y":-2.13,"z":8.17},
      {"x":3.77,"y":-2.71,"z":8.76},{"x":3.82,"y":-2.31,"z":8.32},{"x":3.85,"y":-3.11,"z":9.19},
      {"x":3.87,"y":-2.94,"z":8.96},{"x":3.92,"y":-2.54,"z":8.53},{"x":3.95,"y":-2.14,"z":8.10},
      {"x":3.97,"y":-2.72,"z":8.68},{"x":4.02,"y":-2.27,"z":8.19},{"x":4.05,"y":-1.92,"z":7.81},
      {"x":4.07,"y":-2.49,"z":8.39},{"x":4.12,"y":-2.09,"z":7.95},{"x":4.15,"y":-2.89,"z":8.82},
      {"x":4.17,"y":-2.72,"z":8.59},{"x":4.22,"y":-2.32,"z":8.16},{"x":4.25,"y":-1.92,"z":7.73},
      {"x":4.27,"y":-2.50,"z":8.31},{"x":4.32,"y":-2.05,"z":7.82},{"x":4.35,"y":-1.70,"z":7.44},
      {"x":4.37,"y":-2.28,"z":8.03},{"x":4.42,"y":-1.88,"z":7.59},{"x":4.45,"y":-2.68,"z":8.46},
      {"x":4.47,"y":-2.51,"z":8.23},{"x":4.52,"y":-2.11,"z":7.80},{"x":4.55,"y":-1.71,"z":7.37},
      {"x":4.57,"y":-2.28,"z":7.94},{"x":4.62,"y":-1.83,"z":7.45},{"x":4.65,"y":-1.48,"z":7.07},
      {"x":4.67,"y":-2.06,"z":7.66},{"x":4.72,"y":-1.66,"z":7.23},{"x":4.75,"y":-2.46,"z":8.09},
      {"x":4.77,"y":-2.29,"z":7.86},{"x":4.82,"y":-1.89,"z":7.43},{"x":4.85,"y":-1.49,"z":7.00},
      {"x":4.87,"y":-2.07,"z":7.58},{"x":4.92,"y":-1.62,"z":7.09},{"x":4.95,"y":-1.27,"z":6.72},
      {"x":4.97,"y":-1.85,"z":7.30},{"x":5.02,"y":-1.45,"z":6.87},{"x":5.05,"y":-2.25,"z":7.73},
      {"x":5.07,"y":-2.07,"z":7.49},{"x":5.12,"y":-1.67,"z":7.06},{"x":5.15,"y":-1.27,"z":6.63},
      {"x":5.17,"y":-1.85,"z":7.21},{"x":5.22,"y":-1.40,"z":6.72},{"x":5.25,"y":-1.05,"z":6.35},
      {"x":5.27,"y":-1.63,"z":6.93},{"x":5.32,"y":-1.23,"z":6.50},{"x":5.35,"y":-2.03,"z":7.36},
      {"x":5.37,"y":-1.86,"z":7.13},{"x":5.42,"y":-1.46,"z":6.70},{"x":5.45,"y":-1.06,"z":6.27},
      {"x":5.47,"y":-1.64,"z":6.85},{"x":5.52,"y":-1.19,"z":6.37},{"x":5.55,"y":-0.84,"z":5.99},
      {"x":5.57,"y":-1.41,"z":6.56},{"x":5.62,"y":-1.01,"z":6.13},{"x":5.65,"y":-1.81,"z":6.99},
      {"x":5.67,"y":-1.64,"z":6.76},{"x":5.72,"y":-1.24,"z":6.33},{"x":5.75,"y":-0.84,"z":5.90},
      {"x":5.77,"y":-1.42,"z":6.48},{"x":5.82,"y":-0.97,"z":5.99},{"x":5.85,"y":-0.62,"z":5.62},
      {"x":5.87,"y":-1.20,"z":6.20},{"x":5.92,"y":-0.80,"z":5.77},{"x":5.95,"y":-1.60,"z":6.63},
      {"x":5.97,"y":-1.43,"z":6.40},{"x":6.02,"y":-1.03,"z":5.97},{"x":6.05,"y":-0.63,"z":5.54},
      {"x":6.07,"y":-1.20,"z":6.11},{"x":6.12,"y":-0.75,"z":5.63},{"x":6.15,"y":-0.40,"z":5.25},
      {"x":6.17,"y":-0.98,"z":5.83},{"x":6.22,"y":-0.58,"z":5.40},{"x":6.25,"y":-1.38,"z":6.26},
      {"x":6.27,"y":-1.21,"z":6.03},{"x":6.32,"y":-0.81,"z":5.60},{"x":6.35,"y":-0.41,"z":5.17},
      {"x":6.37,"y":-0.99,"z":5.75},{"x":6.42,"y":-0.54,"z":5.27},{"x":6.45,"y":-0.19,"z":4.89},
      {"x":6.47,"y":-0.77,"z":5.47},{"x":6.52,"y":-0.37,"z":5.04},{"x":6.55,"y":-1.17,"z":5.90}
    ]
  },
  "mark": {"type": "circle", "size": 36, "opacity": 1},
  "encoding": {
    "x": {
      "field": "x",
      "type": "quantitative",
      "title": "X",
      "scale": {"domain": [-0.5, 9.5], "nice": false, "zero": false},
      "axis": {
        "values": [-0.5, 0, 0.5, 1, 1.5, 2, 2.5, 3, 3.5, 4, 4.5, 5, 5.5, 6, 6.5, 7, 7.5, 8, 8.5, 9, 9.5],
        "labelExpr": "datum.value % 1 === 0 ? datum.label : ''",
        "format": "~g",
        "labelPadding": 4,
        "titlePadding": 5,
        "labelFlush": false
      }
    },
    "y": {
      "field": "y",
      "type": "quantitative",
      "title": "Y",
      "scale": {"domain": [-6.5, 2.5], "nice": false, "zero": false},
      "axis": {
        "values": [-6.5, -6, -5.5, -5, -4.5, -4, -3.5, -3, -2.5, -2, -1.5, -1, -0.5, 0, 0.5, 1, 1.5, 2, 2.5],
        "labelExpr": "datum.value % 1 === 0 ? datum.label : ''",
        "format": "~g",
        "labelPadding": 3,
        "titlePadding": 5,
        "labelFlush": false
      }
    },
    "color": {
      "field": "z",
      "type": "quantitative",
      "title": "Z",
      "scale": {
        "domain": [0.5, 2, 3.5, 5, 6.5, 8, 9.5, 11, 12.5, 14],
        "range": ["#1020ff", "#2c3ef2", "#4b5be6", "#7c84d6", "#a0a3c8", "#bfbfbf", "#c69e9e", "#d27474", "#e03e3e", "#ff1010"],
        "clamp": true
      },
      "legend": {
        "type": "symbol",
        "values": [2, 3.5, 5, 6.5, 8, 9.5, 11, 12.5],
        "labelExpr": "'' + datum.value",
        "symbolType": "circle",
        "symbolSize": 70,
        "symbolStrokeWidth": 0,
        "symbolOpacity": 1,
        "labelFontSize": 12,
        "labelColor": "#1a1a1a",
        "labelOffset": 6,
        "titleFontSize": 13,
        "titleFontWeight": "bold",
        "titleColor": "#1a1a1a",
        "titlePadding": 4,
        "rowPadding": 3,
        "offset": 2,
        "padding": 3
      }
    }
  }
}
